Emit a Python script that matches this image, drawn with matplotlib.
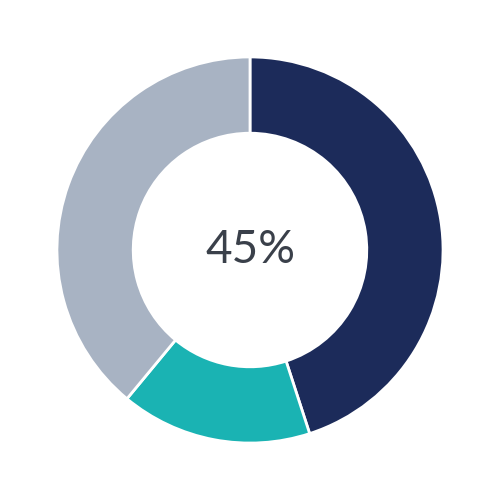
import matplotlib
matplotlib.use('Agg')
import matplotlib.pyplot as plt

labels = ['Navy', 'Teal', 'Gray']
values = [45, 16, 39]
colors = ['#1c2b5a', '#1ab3b3', '#a8b3c3']
center_text = '45%'

fig = plt.figure(figsize=(5, 5), dpi=100)
ax = fig.add_axes([0, 0, 1, 1])
ax.pie(values, colors=colors, startangle=90, counterclock=False,
       radius=1.0,
       wedgeprops=dict(width=0.395, edgecolor='white', linewidth=2))
ax.text(0, 0, center_text, ha='center', va='center', fontsize=33,
        family='Lato', color='#3a404a')
ax.set_xlim(-1.295, 1.295)
ax.set_ylim(-1.295, 1.295)
ax.set_aspect('equal')
ax.axis('off')

fig.savefig('out.png', dpi=100, facecolor='white')
